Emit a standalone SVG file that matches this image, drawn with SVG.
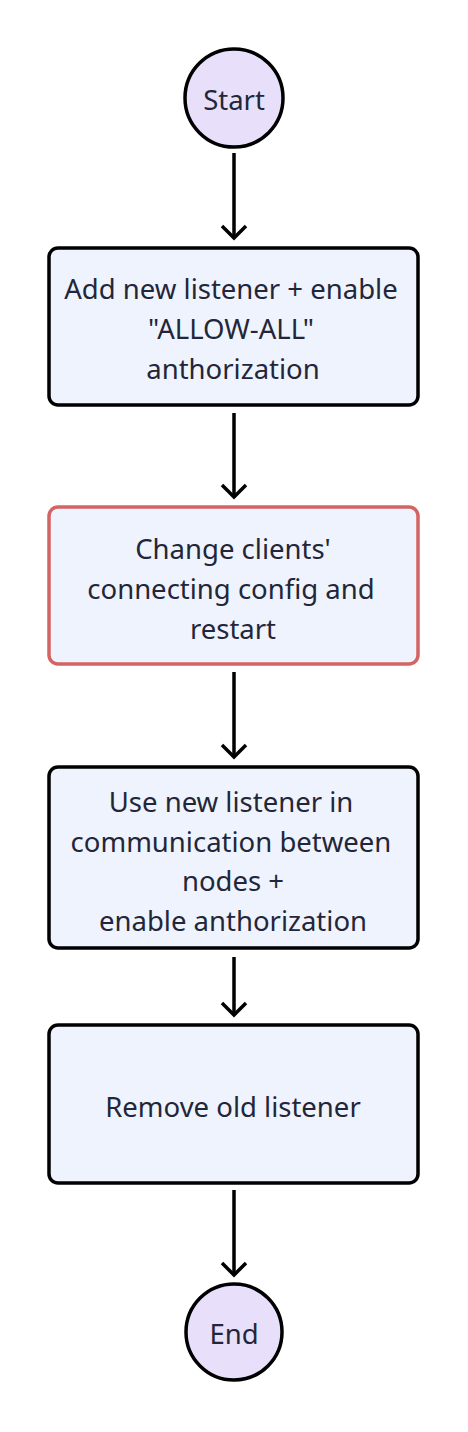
<svg xmlns="http://www.w3.org/2000/svg" width="468" height="1432" viewBox="0 0 468 1432">
<style>
.box{fill:#eef3fd;stroke:#000;stroke-width:3.5}
.red{stroke:#d46464}
.circ{fill:#e8e0fa;stroke:#000;stroke-width:3.5}
text{font-family:"Noto Sans","Open Sans",sans-serif;font-size:27.5px;fill:#232638;text-anchor:middle;dominant-baseline:central}
.edge{stroke:#000;stroke-width:3.5;fill:none}
</style>
<rect width="468" height="1432" fill="#fff"/>
<g id="connectors">
<path class="edge" d="M234 153 V238"/><path class="edge" d="M222 226 L234 238 L246 226"/>
<path class="edge" d="M234 413 V497"/><path class="edge" d="M222 485 L234 497 L246 485"/>
<path class="edge" d="M234 672 V757"/><path class="edge" d="M222 745 L234 757 L246 745"/>
<path class="edge" d="M234 957 V1015"/><path class="edge" d="M222 1003 L234 1015 L246 1003"/>
<path class="edge" d="M234 1190 V1275"/><path class="edge" d="M222 1263 L234 1275 L246 1263"/>
</g>
<g id="start"><circle class="circ" cx="234" cy="98" r="49"/><text x="234" y="99">Start</text></g>
<g id="n1"><rect class="box" x="49" y="248" width="369" height="157" rx="9"/>
<text x="231" y="288">Add new listener + enable</text>
<text x="231" y="328">"ALLOW-ALL"</text>
<text x="233" y="368">anthorization</text></g>
<g id="n2"><rect class="box red" x="49" y="507" width="369" height="157" rx="9"/>
<text x="233" y="548">Change clients'</text>
<text x="231" y="588">connecting config and</text>
<text x="233" y="628">restart</text></g>
<g id="n3"><rect class="box" x="49" y="767" width="369" height="181" rx="9"/>
<text x="231" y="801">Use new listener in</text>
<text x="231" y="841">communication between</text>
<text x="233" y="880">nodes +</text>
<text x="233" y="920">enable anthorization</text></g>
<g id="n4"><rect class="box" x="49" y="1025" width="369" height="158" rx="9"/>
<text x="233" y="1106">Remove old listener</text></g>
<g id="end"><circle class="circ" cx="234" cy="1332" r="48"/><text x="234" y="1333">End</text></g>
</svg>
